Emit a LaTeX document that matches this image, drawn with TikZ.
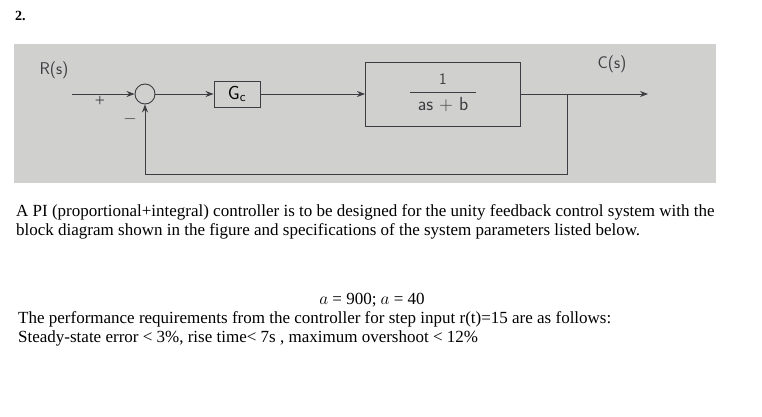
\documentclass[tikz,border=0pt]{standalone}
\usepackage{fontspec}
\setmainfont{Liberation Serif}
\usetikzlibrary{arrows.meta}
\definecolor{bg}{RGB}{208,208,206}
\definecolor{ink}{RGB}{60,60,66}
\begin{document}
\begin{tikzpicture}[x=1pt,y=-1pt,
  wire/.style={draw=ink,line width=0.9pt},
  arr/.style={wire,-{Stealth[length=8pt]}},
  blk/.style={draw=ink,line width=0.9pt,inner sep=0pt},
  txt/.style={anchor=west,font=\fontsize{17}{19}\selectfont,inner sep=0pt}]
\useasboundingbox (0,0) rectangle (762,417);
\fill[white] (0,0) rectangle (762,417);
\node[anchor=west,font=\bfseries\fontsize{14}{16}\selectfont,inner sep=0pt] (num) at (15,16) {2.};
\fill[bg] (14,44) rectangle (716,183);
\node[font=\sffamily\fontsize{17}{19}\selectfont,text=ink] (R) at (54,70) {R(s)};
\node[font=\sffamily\fontsize{17}{19}\selectfont,text=ink] (C) at (612,64) {C(s)};
\coordinate (in) at (72,94);
\node[draw=ink,line width=0.9pt,circle,minimum size=20pt,inner sep=0pt] (sum) at (145,94) {};
\node[blk,minimum width=46pt,minimum height=26pt] (gc) at (237,94) {\sffamily\fontsize{19}{21}\selectfont G\textsubscript{c}};
\node[blk,minimum width=155pt,minimum height=64pt] (plant) at (443,94) {};
\node[text=ink,font=\sffamily\fontsize{16}{18}\selectfont] (one) at (443,79) {1};
\node[text=ink,font=\sffamily\fontsize{19}{21}\selectfont] (den) at (443,105) {as + b};
\draw[ink,line width=0.8pt] (410,92) -- (476,92);
\node[text=ink,font=\fontsize{18}{20}\selectfont] (plus) at (100,101) {+};
\node[text=ink,font=\fontsize{18}{20}\selectfont] (minus) at (130,119) {$-$};
\coordinate (out) at (648,94);
\coordinate (tap) at (567,94);
\coordinate (fb1) at (567,174);
\coordinate (fb2) at (145,174);
\draw[arr] (in) -- (sum.west);
\draw[arr] (sum.east) -- (gc.west);
\draw[arr] (gc.east) -- (plant.west);
\draw[arr] (plant.east) -- (out);
\draw[arr] (tap) -- (fb1) -- (fb2) -- (sum.south);
\node[txt] (t1) at (16,212) {A PI (proportional+integral) controller is to be designed for the unity feedback control system with the};
\node[txt] (t2) at (16,231) {block diagram shown in the figure and specifications of the system parameters listed below.};
\node[font=\fontsize{17}{19}\selectfont,inner sep=0pt] (t3) at (372,300) {$a$ = 900; $a$ = 40};
\node[txt] (t4) at (18,319) {The performance requirements from the controller for step input r(t)=15 are as follows:};
\node[txt] (t5) at (18,338) {Steady-state error < 3\%, rise time< 7s , maximum overshoot < 12\%};
\end{tikzpicture}
\end{document}
